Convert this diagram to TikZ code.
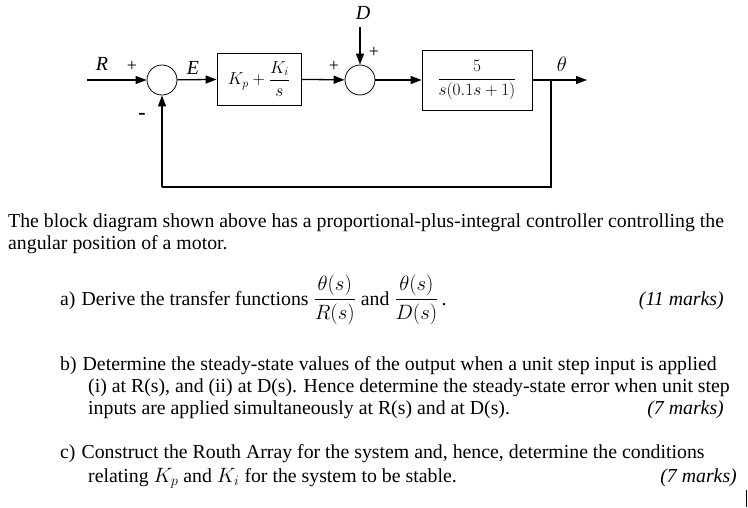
\documentclass[tikz,border=0pt]{standalone}
\usepackage{amsmath}
\usepackage{fontspec}
\setmainfont{Liberation Serif}
\usetikzlibrary{arrows.meta}
\begin{document}
\begin{tikzpicture}[x=1pt,y=-1pt,
  sig/.style={line width=1.3pt,-{Triangle[length=11pt,width=8pt]}},
  ln/.style={line width=1.3pt},
  blk/.style={draw,line width=0.8pt,inner sep=0pt},
  sum/.style={draw,circle,line width=0.8pt,minimum size=30pt,inner sep=0pt},
  lab/.style={font=\fontsize{20}{22}\selectfont\itshape},
  pm/.style={font=\fontsize{18}{20}\selectfont},
  txt/.style={anchor=base west,inner sep=0pt,font=\fontsize{19.8}{22}\selectfont},
  mk/.style={anchor=base east,inner sep=0pt,font=\fontsize{19.8}{22}\selectfont\itshape}]
\useasboundingbox (0,0) rectangle (748,507);
\node[sum] (s1) at (162,80) {};
\node[blk,minimum width=84pt,minimum height=52pt] (c) at (259,79) {\fontsize{17}{20}\selectfont$K_p+\dfrac{K_i}{s}$};
\node[sum] (s2) at (360,80) {};
\node[blk,minimum width=110pt,minimum height=60pt] (g) at (477,80) {\fontsize{19}{22}\selectfont$\dfrac{5}{s(0.1s+1)}$};
\coordinate (in) at (87,80);
\coordinate (tap) at (551,80);
\coordinate (out) at (587,80);
\coordinate (fb) at (551,187);
\coordinate (fb2) at (162,187);
\coordinate (dtop) at (360,27);
\draw[sig] (in) -- (s1);
\draw[sig] (s1) -- (c);
\draw[sig] (c) -- (s2);
\draw[sig] (s2) -- (g);
\draw[sig] (g) -- (out);
\draw[ln] (tap) -- (fb) -- (fb2);
\draw[sig] (fb2) -- (s1);
\draw[sig] (dtop) -- (s2);
\node[lab] (lR) at (102,64) {R};
\node[pm] (p1) at (132,66) {+};
\node[lab] (lE) at (193,68) {E};
\node[pm] (p2) at (334,66) {+};
\node[pm] (p3) at (374,52) {+};
\node[lab] (lD) at (363,13) {D};
\node[lab] (lT) at (562,64) {$\theta$};
\node[font=\fontsize{22}{22}\selectfont\bfseries] (mn) at (142,116) {-};
\node[txt] (t1) at (8,227) {The block diagram shown above has a proportional-plus-integral controller controlling the};
\node[txt] (t2) at (8,249) {angular position of a motor.};
\node[txt] (a1) at (60,305) {a)\hspace{6pt}Derive the transfer functions {\fontsize{21}{24}\selectfont$\dfrac{\theta(s)}{R(s)}$} and {\fontsize{21}{24}\selectfont$\dfrac{\theta(s)}{D(s)}$}\,.};
\node[mk] (a2) at (724,305) {(11 marks)};
\node[txt] (b1) at (60,370) {b)\hspace{6pt}Determine the steady-state values of the output when a unit step input is applied};
\node[txt] (b2) at (88,392) {(i) at R(s), and (ii) at D(s). Hence determine the steady-state error when unit step};
\node[txt] (b3) at (88,414) {inputs are applied simultaneously at R(s) and at D(s).};
\node[mk] (b4) at (724,414) {(7 marks)};
\node[txt] (c1) at (60,458) {c)\hspace{6pt}Construct the Routh Array for the system and, hence, determine the conditions};
\node[txt] (c2) at (88,482) {relating $K_p$ and $K_i$ for the system to be stable.};
\node[mk] (c3) at (737,482) {(7 marks)};
\draw[line width=1pt] (746,490) -- (746,507);
\end{tikzpicture}
\end{document}
